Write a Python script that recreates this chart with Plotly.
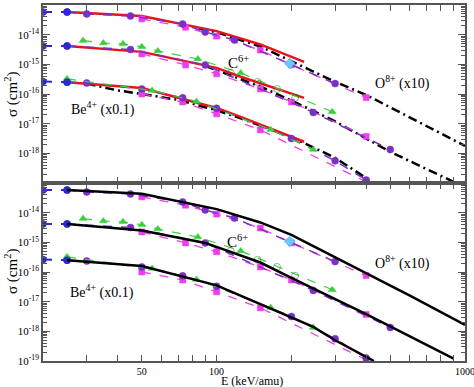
import numpy as np
import plotly.graph_objects as go
from plotly.subplots import make_subplots

# ---------------- data (energies in keV/amu, cross sections as log10(sigma / cm^2)) ----------------
E_blue = [20, 25]
O_blue = [-13.24, -13.24]
C_blue = [-14.38, -14.38]
Be_blue = [-15.58, -15.60]

# O8+ (x10)
O_pur_E = [25, 30, 45, 73, 90, 118, 300]
O_pur = [-13.24, -13.30, -13.37, -13.64, -13.91, -14.18, -15.65]
O_mag_E = [50, 75, 100, 150, 200, 400]
O_mag = [-13.47, -13.75, -14.05, -14.52, -15.02, -16.12]
O_cyan_E = [197]
O_cyan = [-14.97]
O_red_E = [25, 50, 100, 150, 225]
O_red = [-13.24, -13.37, -13.88, -14.33, -14.92]
O_dd_E = [85, 100, 150, 245, 300, 400, 600, 1000]
O_dd = [-13.80, -13.92, -14.40, -15.26, -15.59, -16.03, -16.80, -17.75]
O_blk_E = [25, 50, 100, 150, 200, 300, 400, 600, 1000]
O_blk = [-13.24, -13.36, -13.88, -14.33, -14.75, -15.50, -16.03, -16.80, -17.78]

# C6+
C_grn_E = [29, 35, 42, 50, 58, 84, 125, 292]
C_grn = [-14.20, -14.28, -14.31, -14.41, -14.55, -14.82, -15.29, -16.60]
C_dg_E = [114, 146, 175, 207]
C_dg = [-15.29, -15.59, -15.83, -16.13]
C_pur_E = [25, 45, 90, 245, 500]
C_pur = [-14.38, -14.50, -15.02, -16.62, -17.87]
C_mag_E = [50, 75, 100, 150, 200, 400]
C_mag = [-14.65, -15.02, -15.32, -15.83, -16.27, -17.43]
C_red_E = [25, 50, 100, 125, 225]
C_red = [-14.38, -14.58, -15.12, -15.42, -16.13]
C_dd_E = [90, 100, 150, 200, 300, 500, 900]
C_dd = [-15.05, -15.20, -15.75, -16.22, -16.92, -17.95, -18.96]
C_blk_E = [25, 50, 90, 150, 200, 400, 900]
C_blk = [-14.38, -14.60, -15.02, -15.68, -16.20, -17.42, -18.92]

# Be4+ (x0.1)
Be_grn_E = [25, 55, 83, 165, 245]
Be_grn = [-15.49, -15.88, -16.25, -17.20, -17.87]
Be_pur_E = [25, 30, 50, 73, 100, 200, 300, 400]
Be_pur = [-15.60, -15.63, -15.83, -16.13, -16.48, -17.50, -18.25, -18.90]
Be_mag_E = [50, 73, 100, 150, 400]
Be_mag = [-16.00, -16.27, -16.67, -17.21, -18.96]
Be_red_E = [25, 50, 100, 125, 225]
Be_red = [-15.60, -15.80, -16.47, -16.77, -17.61]
Be_dd_E = [30, 40, 50, 70, 100, 125, 200, 300, 420]
Be_dd = [-15.65, -15.88, -16.00, -16.20, -16.55, -16.82, -17.45, -18.15, -18.95]
Be_blk_E = [25, 50, 100, 180, 245, 300, 430]
Be_blk = [-15.60, -15.80, -16.45, -17.38, -17.85, -18.30, -19.00]

x_tickvals = [30, 40, 50, 60, 70, 80, 90, 100, 200, 300, 400, 500, 600, 700, 800, 900, 1000]
x_ticklabels = ["", "", "50", "", "", "", "", "100", "", "", "", "", "", "", "", "", "1000"]
y_top_ticks = [-13, -14, -15, -16, -17, -18]
y_bot_ticks = [-14, -15, -16, -17, -18, -19]

# ---------------- styles ----------------
FONT = "Liberation Serif"
BLUE = "#2a2ad0"
PURPLE = "#7a2fc8"
MAGENTA = "#ee3cee"
GREEN = "#38d038"
DGREEN = "#1e6e1e"
CYAN = "#66ccff"
RED = "#e8141c"


def p(v):
    return [10 ** a for a in v]


fig = make_subplots(rows=2, cols=1, shared_xaxes=True, vertical_spacing=0)


def add(row, x, y, mode, color, width=1.5, dash="dash", symbol=None, size=6, mline=None, fill=True):
    line = dict(color=color, width=width, dash=dash)
    marker = None
    if symbol is not None:
        marker = dict(symbol=symbol, size=size, color=color if fill else "rgba(0,0,0,0)",
                      line=dict(color=mline or color, width=1.5 if not fill else 0.5))
    fig.add_trace(go.Scatter(x=x, y=p(y), mode=mode, line=line, marker=marker,
                             showlegend=False, hoverinfo="skip"), row=row, col=1)


for row in (1, 2):
    groups = [
        (O_pur_E, O_pur, O_mag_E, O_mag, None, None),
        (C_pur_E, C_pur, C_mag_E, C_mag, C_grn_E, C_grn),
        (Be_pur_E, Be_pur, Be_mag_E, Be_mag, Be_grn_E, Be_grn),
    ]
    if row == 1:
        for (ex, ey) in [(O_dd_E, O_dd), (C_dd_E, C_dd), (Be_dd_E, Be_dd)]:
            add(row, ex, ey, "lines", "black", width=2.5, dash="9px,4px,2px,4px")
        for (ex, ey) in [(O_red_E, O_red), (C_red_E, C_red), (Be_red_E, Be_red)]:
            add(row, ex, ey, "lines", RED, width=2.5, dash="solid")
    for (pe, pv, me, mv, ge, gv) in groups:
        add(row, me, mv, "lines+markers", MAGENTA, width=1.3, symbol="square", size=6)
        add(row, pe, pv, "lines+markers", PURPLE, width=1.5, symbol="circle", size=7)
        if ge is not None:
            add(row, ge, gv, "lines+markers", GREEN, width=1.2, symbol="triangle-up", size=7)
    for bv in (O_blue, C_blue, Be_blue):
        add(row, E_blue, bv, "lines+markers", BLUE, width=2, symbol="circle", size=7)
    add(row, C_dg_E, C_dg, "markers", DGREEN, symbol="circle-open", size=7, fill=True)
    add(row, O_cyan_E, O_cyan, "markers", CYAN, symbol="diamond", size=8, mline="#3399ff")
    if row == 2:
        for (ex, ey) in [(O_blk_E, O_blk), (C_blk_E, C_blk), (Be_blk_E, Be_blk)]:
            add(row, ex, ey, "lines", "black", width=2.5, dash="solid")

minor_vals = [m * 10.0 ** k for k in range(-19, -13) for m in range(2, 10)]

axis_common = dict(showgrid=False, zeroline=False, showline=True, linecolor="#555555",
                   linewidth=1.5, mirror="allticks", ticks="inside", tickcolor="#555555",
                   automargin=False)

xaxis_kw = dict(type="log", range=[np.log10(20), 3], tickvals=x_tickvals, ticktext=x_ticklabels,
                ticklen=6, ticklabeloverflow="allow",
                tickfont=dict(family=FONT, size=10, color="black"), **axis_common)
fig.update_xaxes(**xaxis_kw, row=1, col=1)
fig.update_xaxes(**xaxis_kw, row=2, col=1)


def ylab(t):
    return "10<sup>%d</sup>" % t


for row, tv in ((1, y_top_ticks), (2, y_bot_ticks)):
    fig.update_yaxes(type="log", range=[-19, -13], tickvals=[10.0 ** t for t in tv],
                     ticktext=[ylab(t) for t in tv], ticklen=7,
                     tickfont=dict(family=FONT, size=11, color="black"),
                     minor=dict(tickvals=minor_vals, ticks="inside", ticklen=4, tickcolor="#555555"),
                     **axis_common, row=row, col=1)

W, H = 474, 387
L, R, T, B = 43, 9, 5, 26
pw, ph = W - L - R, H - T - B


def px(x, y):
    return (x - L) / pw, 1 - (y - T) / ph


annotations = []
for (tx, ty, txt, size) in [
    (402, 82, "O<sup>8+</sup> (x10)", 14),
    (402, 262, "O<sup>8+</sup> (x10)", 14),
    (238, 62, "C<sup>6+</sup>", 15),
    (237, 241, "C<sup>6+</sup>", 15),
    (103, 108, "Be<sup>4+</sup> (x0.1)", 14),
    (102, 291, "Be<sup>4+</sup> (x0.1)", 14),
]:
    ax_, ay_ = px(tx, ty)
    annotations.append(dict(x=ax_, y=ay_, xref="paper", yref="paper", text=txt, showarrow=False,
                            font=dict(family=FONT, size=size, color="black"),
                            xanchor="center", yanchor="middle"))

for ty in (95, 272):
    ax_, ay_ = px(11, ty)
    annotations.append(dict(x=ax_, y=ay_, xref="paper", yref="paper", text="σ (cm<sup>2</sup>)",
                            showarrow=False, textangle=-90,
                            font=dict(family=FONT, size=15, color="black"),
                            xanchor="center", yanchor="middle"))
ax_, ay_ = px(252, 380.5)
annotations.append(dict(x=ax_, y=ay_, xref="paper", yref="paper", text="E (keV/amu)", showarrow=False,
                        font=dict(family=FONT, size=12, color="black"),
                        xanchor="center", yanchor="middle"))

fig.update_layout(width=W, height=H, margin=dict(l=L, r=R, t=T, b=B),
                  paper_bgcolor="white", plot_bgcolor="white", showlegend=False,
                  annotations=annotations)

fig.write_html("out.html", config={"displayModeBar": False},
               post_script="document.body.style.margin='0';document.body.style.padding='0';"
                           "document.body.style.overflow='hidden';")
